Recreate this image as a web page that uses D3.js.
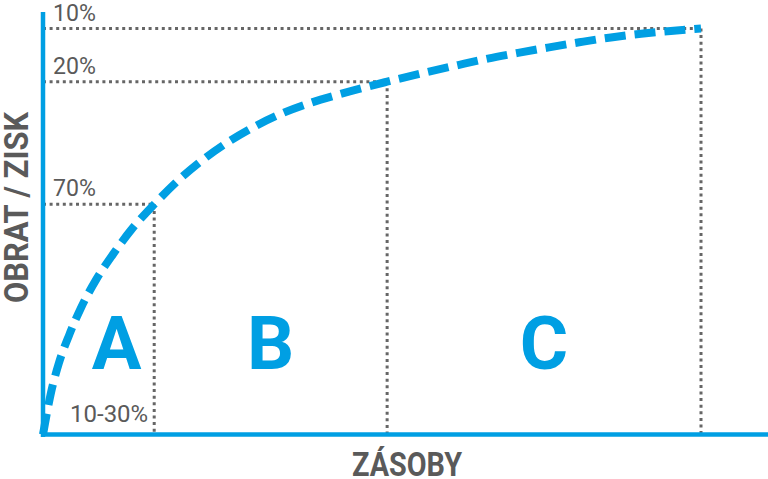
<!DOCTYPE html>
<html>
<head>
<meta charset="utf-8">
<script src="https://cdn.jsdelivr.net/npm/d3@7"></script>
<style>
  html, body { margin: 0; padding: 0; background: #fff; }
  svg { display: block; }
</style>
</head>
<body>
<div id="chart"></div>
<script>
// cumulative share of stock (x, %) vs. cumulative turnover (y, %)
const curveX = [0, 0.5, 1.2, 2.4, 4.0, 5.8, 8.1, 10.6, 13.4, 16.9, 20.5, 24.0, 28.1, 32.1, 36.2, 40.3, 44.8, 49.1, 52.3, 58.5, 63.1, 67.6, 72.2, 76.7, 81.5, 86.3, 90.9, 95.4, 100];
const curveY = [0, 4.5, 10.2, 17.5, 24.6, 31.3, 38.2, 44.3, 50.4, 56.7, 62.5, 67.3, 72.0, 75.8, 79.0, 81.5, 83.7, 85.6, 86.9, 89.3, 91.0, 92.6, 94.0, 95.3, 96.6, 97.8, 98.7, 99.4, 100];

// class boundaries
const classes = ["A", "B", "C"];
const boundX = [16.9, 52.3, 100];
const boundY = [56.7, 86.9, 100];
const shareLabels = ["70%", "20%", "10%"];
const stockLabel = "10-30%";
const xTitle = "ZÁSOBY";
const yTitle = "OBRAT / ZISK";

(function() {
    const config = {
        colors: { blue: "#009fe3", grey: "#5a5a5a", dots: "#666666" },
        font: 'Roboto, "Open Sans", sans-serif'
    };

    const W = 768, H = 479;
    const x = d3.scaleLinear().domain([0, 100]).range([43, 701]);
    const y = d3.scaleLinear().domain([0, 100]).range([434.5, 28.5]);

    const svg = d3.select("#chart").append("svg")
        .attr("width", W)
        .attr("height", H);

    // dotted guide lines
    const guides = svg.append("g")
        .attr("stroke", config.colors.dots)
        .attr("stroke-width", 3)
        .attr("stroke-dasharray", "3 3.6")
        .attr("fill", "none");

    boundX.forEach((bx, i) => {
        guides.append("line")
            .attr("x1", x(0)).attr("x2", x(bx))
            .attr("y1", y(boundY[i])).attr("y2", y(boundY[i]));
        guides.append("line")
            .attr("x1", x(bx)).attr("x2", x(bx))
            .attr("y1", y(boundY[i])).attr("y2", y(0));
    });

    // axes (plain lines)
    svg.append("line")
        .attr("x1", x(0)).attr("x2", x(0))
        .attr("y1", 12).attr("y2", y(0) + 2.5)
        .attr("stroke", config.colors.blue)
        .attr("stroke-width", 4.5);
    svg.append("line")
        .attr("x1", x(0) - 2).attr("x2", W)
        .attr("y1", y(0)).attr("y2", y(0))
        .attr("stroke", config.colors.blue)
        .attr("stroke-width", 4.5);

    // dashed curve
    const line = d3.line()
        .x(d => x(d[0]))
        .y(d => y(d[1]))
        .curve(d3.curveMonotoneX);

    svg.append("path")
        .datum(d3.zip(curveX, curveY))
        .attr("d", line)
        .attr("fill", "none")
        .attr("stroke", config.colors.blue)
        .attr("stroke-width", 8)
        .attr("stroke-dasharray", "21 9");

    // share labels above each guide
    svg.selectAll(".share")
        .data(shareLabels)
        .enter().append("text")
        .attr("x", 53)
        .attr("y", (d, i) => y(boundY[i]) - 8)
        .attr("font-family", config.font)
        .attr("font-size", "24px")
        .attr("fill", config.colors.grey)
        .attr("textLength", d => d.length * 14.3)
        .attr("lengthAdjust", "spacingAndGlyphs")
        .text(d => d);

    svg.append("text")
        .attr("x", x(boundX[0]) - 6)
        .attr("y", 422)
        .attr("text-anchor", "end")
        .attr("font-family", config.font)
        .attr("font-size", "24px")
        .attr("fill", config.colors.grey)
        .text(stockLabel);

    // class letters
    const starts = [0].concat(boundX.slice(0, -1));
    svg.selectAll(".cls")
        .data(classes)
        .enter().append("text")
        .attr("x", (d, i) => (x(starts[i]) + x(boundX[i])) / 2 + (i === 0 ? 18 : 0))
        .attr("y", 369)
        .attr("text-anchor", "middle")
        .attr("font-family", config.font)
        .attr("font-weight", 700)
        .attr("font-size", "74px")
        .attr("fill", config.colors.blue)
        .text(d => d);

    // axis titles
    svg.append("text")
        .attr("x", 407)
        .attr("y", 476)
        .attr("text-anchor", "middle")
        .attr("font-family", config.font)
        .attr("font-weight", 700)
        .attr("font-size", "33px")
        .attr("fill", config.colors.grey)
        .attr("textLength", 110)
        .attr("lengthAdjust", "spacingAndGlyphs")
        .text(xTitle);

    svg.append("text")
        .attr("transform", "translate(27.5,207.5) rotate(-90)")
        .attr("text-anchor", "middle")
        .attr("font-family", config.font)
        .attr("font-weight", 700)
        .attr("font-size", "33px")
        .attr("fill", config.colors.grey)
        .attr("textLength", 191)
        .attr("lengthAdjust", "spacingAndGlyphs")
        .text(yTitle);
})();
</script>
</body>
</html>
